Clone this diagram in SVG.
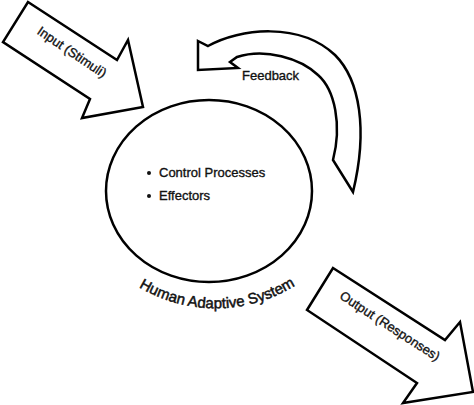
<svg xmlns="http://www.w3.org/2000/svg" width="474" height="405" viewBox="0 0 474 405">
<style>
.sh{fill:#fff;stroke:#000;stroke-width:2.5;stroke-linejoin:miter}
.t{font-family:"Liberation Sans",Arial,sans-serif;fill:#111;stroke:#111;stroke-width:0.35;font-size:13px}
</style>
<rect width="474" height="405" fill="#fff"/>
<g id="connectors">
<g id="input-arrow">
<polygon class="sh" points="28,2 117,60 128,40 143,107 82,118 90,99 3,42"/>
<text class="t" text-anchor="middle" transform="translate(72,52) rotate(34)" y="4.5">Input (Stimuli)</text>
</g>
<g id="feedback-arrow">
<path class="sh" d="M198,41 L208,46 C240,28 300,22 335,55 C360,80 368,130 353,192 L333,160 C342,125 335,90 318,75 C300,58 265,48 237,57 L230,62 L238,68 L198,70 Z"/>
<text class="t" x="242" y="80">Feedback</text>
</g>
<g id="output-arrow">
<polygon class="sh" points="333,268 445,340 460,322 473,392 403,403 417,383 307,310"/>
<text class="t" text-anchor="middle" transform="translate(390,326) rotate(33)" y="4.5">Output (Responses)</text>
</g>
</g>
<g id="system">
<ellipse class="sh" cx="209" cy="191" rx="103" ry="91"/>
<circle cx="149" cy="173" r="2" fill="#111"/>
<text class="t" x="159" y="177">Control Processes</text>
<circle cx="149" cy="196" r="2" fill="#111"/>
<text class="t" x="159" y="200">Effectors</text>
<path id="arcp" d="M118,272 A150,150 0 0 0 316,270" fill="none"/>
<text class="t" style="font-size:15px;stroke-width:0.5"><textPath href="#arcp" startOffset="50%" text-anchor="middle">Human Adaptive System</textPath></text>
</g>
</svg>
